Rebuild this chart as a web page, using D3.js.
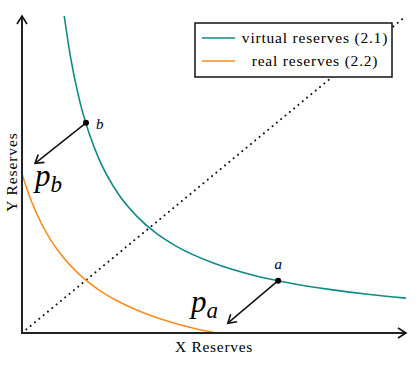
<!DOCTYPE html>
<html lang="en">
<head>
<meta charset="utf-8">
<title>Virtual and real reserves</title>
<script src="https://cdn.jsdelivr.net/npm/d3@7"></script>
<style>
  body { margin: 0; background: #fff; }
  text { font-family: "Liberation Serif", "DejaVu Serif", serif; }
</style>
</head>
<body>
<script>
// curves (data units, 0..10 on both axes)
var virtualX = [1.1, 1.25, 1.5, 1.75, 2, 2.5, 3, 3.5, 4, 5, 6, 7, 8, 9, 10];
var virtualY = [10.0, 8.8, 7.33, 6.29, 5.5, 4.4, 3.67, 3.14, 2.75, 2.2, 1.83, 1.57, 1.375, 1.22, 1.1];
var realX = [0, 0.25, 0.5, 0.75, 1, 1.5, 2, 2.5, 3, 3.5, 4, 4.5, 5.05];
var realY = [5.02, 4.14, 3.47, 2.93, 2.5, 1.84, 1.36, 1.0, 0.72, 0.49, 0.30, 0.14, 0.0];
var diagonal = [[0, 0], [10, 10]];

// marked points and the arrows that leave them
var pointNames = ["b", "a"];
var pointX = [1.667, 6.67];
var pointY = [6.63, 1.65];
var arrowToX = [0.34, 5.36];
var arrowToY = [5.35, 0.31];

var seriesNames = ["virtual reserves (2.1)", "real reserves (2.2)"];
var seriesColors = ["#0f8a85", "#f98c1c"];

var w = 420, h = 367;

var svg = d3.select("body").append("svg")
    .attr("width", w)
    .attr("height", h);

var x = d3.scaleLinear().domain([0, 10]).range([22, 406]);
var y = d3.scaleLinear().domain([0, 10]).range([333, 16]);

var defs = svg.append("defs");
defs.append("marker")
    .attr("id", "head")
    .attr("viewBox", "-10 -6 12 12")
    .attr("refX", 0).attr("refY", 0)
    .attr("markerWidth", 12).attr("markerHeight", 12)
    .attr("markerUnits", "userSpaceOnUse")
    .attr("orient", "auto")
    .append("path")
    .attr("d", "M-8,-5 L0,0 L-8,5")
    .attr("fill", "none")
    .attr("stroke", "#111")
    .attr("stroke-width", 1.6);

// dotted diagonal
svg.append("line")
    .attr("x1", x(diagonal[0][0])).attr("y1", y(diagonal[0][1]))
    .attr("x2", x(diagonal[1][0])).attr("y2", y(diagonal[1][1]))
    .attr("stroke", "#111")
    .attr("stroke-width", 2)
    .attr("stroke-linecap", "round")
    .attr("stroke-dasharray", "0.1,5.5");

var line = d3.line()
    .x(function(d) { return x(d[0]); })
    .y(function(d) { return y(d[1]); })
    .curve(d3.curveMonotoneX);

svg.append("path")
    .datum(virtualX.map(function(v, i) { return [v, virtualY[i]]; }))
    .attr("d", line)
    .attr("fill", "none")
    .attr("stroke", seriesColors[0])
    .attr("stroke-width", 1.6);

svg.append("path")
    .datum(realX.map(function(v, i) { return [v, realY[i]]; }))
    .attr("d", line)
    .attr("fill", "none")
    .attr("stroke", seriesColors[1])
    .attr("stroke-width", 1.6);

// axes with arrow heads
svg.append("line")
    .attr("x1", x(0)).attr("y1", y(0))
    .attr("x2", x(10)).attr("y2", y(0))
    .attr("stroke", "#222").attr("stroke-width", 2)
    .attr("marker-end", "url(#head)");
svg.append("line")
    .attr("x1", x(0)).attr("y1", y(0) + 1)
    .attr("x2", x(0)).attr("y2", y(10))
    .attr("stroke", "#222").attr("stroke-width", 2)
    .attr("marker-end", "url(#head)");

svg.append("text")
    .attr("x", 214).attr("y", 352)
    .attr("text-anchor", "middle")
    .attr("font-size", "15.5px")
    .attr("letter-spacing", "0.7px")
    .text("X Reserves");
svg.append("text")
    .attr("transform", "translate(17,172) rotate(-90)")
    .attr("text-anchor", "middle")
    .attr("font-size", "15.5px")
    .attr("letter-spacing", "0.9px")
    .text("Y Reserves");

// arrows from the points
pointNames.forEach(function(n, i) {
  svg.append("line")
      .attr("x1", x(pointX[i])).attr("y1", y(pointY[i]))
      .attr("x2", x(arrowToX[i])).attr("y2", y(arrowToY[i]))
      .attr("stroke", "#111").attr("stroke-width", 1.5)
      .attr("marker-end", "url(#head)");
  svg.append("circle")
      .attr("cx", x(pointX[i])).attr("cy", y(pointY[i]))
      .attr("r", 3).attr("fill", "#000");
});

svg.append("text")
    .attr("x", x(pointX[0]) + 10).attr("y", y(pointY[0]) + 6)
    .attr("font-size", "15px").attr("font-style", "italic")
    .text("b");
svg.append("text")
    .attr("x", x(pointX[1])).attr("y", y(pointY[1]) - 12)
    .attr("text-anchor", "middle")
    .attr("font-size", "15px").attr("font-style", "italic")
    .text("a");

// p_b and p_a labels
function pLabel(px, py, sub) {
  var t = svg.append("text")
      .attr("x", px).attr("y", py)
      .attr("font-style", "italic");
  t.append("tspan").attr("font-size", "31px").text("p");
  t.append("tspan").attr("font-size", "23px").attr("dy", 6).text(sub);
}
pLabel(35, 186, "b");
pLabel(191, 312, "a");

// legend
var lg = svg.append("g");
lg.append("rect")
    .attr("x", 195).attr("y", 23)
    .attr("width", 197).attr("height", 54)
    .attr("fill", "#fff")
    .attr("stroke", "#111").attr("stroke-width", 1.5);
seriesNames.forEach(function(n, i) {
  var yy = 38 + i * 23;
  lg.append("line")
      .attr("x1", 202).attr("x2", 235)
      .attr("y1", yy).attr("y2", yy)
      .attr("stroke", seriesColors[i]).attr("stroke-width", 1.6);
  lg.append("text")
      .attr("x", 315).attr("y", yy + 5)
      .attr("text-anchor", "middle")
      .attr("font-size", "15.5px")
      .attr("letter-spacing", "0.8px")
      .text(n);
});
</script>
</body>
</html>
